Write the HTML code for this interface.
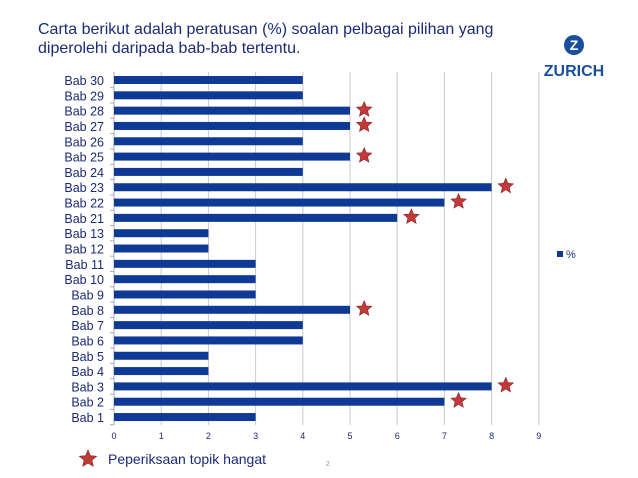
<!DOCTYPE html>
<html><head><meta charset="utf-8"><style>
body{margin:0;width:638px;height:478px;background:#fff;overflow:hidden;font-family:"Liberation Sans",sans-serif;position:relative}
.t{position:absolute;left:38px;top:20px;color:#1c2a78;font-size:16px;line-height:19px}
</style></head><body>
<div class="t">Carta berikut adalah peratusan (%) soalan pelbagai pilihan yang<br>diperolehi daripada bab-bab tertentu.</div>
<svg id="c" width="638" height="478" style="position:absolute;left:0;top:0">
<g>
<circle cx="574" cy="45" r="10" fill="#1a4fa0"/>
<text x="574" y="50" text-anchor="middle" font-size="14" font-weight="bold" fill="#fff" font-family="Liberation Sans">Z</text>
<text x="574" y="76" text-anchor="middle" font-size="16" font-weight="bold" fill="#1a4fa0" font-family="Liberation Sans">ZURICH</text>
</g>
</svg>
<script>
const cats=["Bab 30","Bab 29","Bab 28","Bab 27","Bab 26","Bab 25","Bab 24","Bab 23","Bab 22","Bab 21","Bab 13","Bab 12","Bab 11","Bab 10","Bab 9","Bab 8","Bab 7","Bab 6","Bab 5","Bab 4","Bab 3","Bab 2","Bab 1"];
const vals=[4,4,5,5,4,5,4,8,7,6,2,2,3,3,3,5,4,4,2,2,8,7,3];
const hot=[0,0,1,1,0,1,0,1,1,1,0,0,0,0,0,1,0,0,0,0,1,1,0];
const ticks=[0,1,2,3,4,5,6,7,8,9];
const svg=document.getElementById('c');const NS='http://www.w3.org/2000/svg';
const x=v=>114+v*47.2;const y=i=>80+i*15.32;
function mk(t,a,p){const e=document.createElementNS(NS,t);for(const k in a)e.setAttribute(k,a[k]);(p||svg).appendChild(e);return e;}
ticks.forEach(t=>{
 const l=mk('line',{x1:x(t),x2:x(t),y1:72,y2:425,stroke:t==0?'#aab':'#c8c8d0','stroke-width':1});
 
 
 const tx=mk('text',{x:x(t),y:439,'text-anchor':'middle','font-size':9,fill:'#1c2a78','font-family':'Liberation Sans'});tx.textContent=t;
 
 
});
function star(cx,cy,r){let p=[];for(let k=0;k<10;k++){const a=-Math.PI/2+k*Math.PI/5;const rr=k%2?r*0.45:r;p.push((cx+rr*Math.cos(a)).toFixed(1)+','+(cy+rr*Math.sin(a)).toFixed(1));}return mk('polygon',{points:p.join(' '),fill:'#c0393b',stroke:'#8a2020','stroke-width':0.6});}
cats.forEach((c,i)=>{
 const b=mk('rect',{x:x(0),y:y(i)-4,width:x(vals[i])-x(0),height:8,fill:'#0e3a96'});
 
 
 const t=mk('text',{x:104,y:y(i)+5,'text-anchor':'end','font-size':12.5,fill:'#1c2a78','font-family':'Liberation Sans'});t.textContent=c;
 
 
 mk('line',{x1:110,x2:114,y1:y(i)+7.66,y2:y(i)+7.66,stroke:'#aab'});
 if(hot[i]){const s=star(x(vals[i]+0.3),y(i)-1,8);
 
 }
});
const ls=star(88,459,9);


const lt=mk('text',{x:108,y:464,'font-size':14,fill:'#1c2a78','font-family':'Liberation Sans'});lt.textContent='Peperiksaan topik hangat';


const pn=mk('text',{x:328,y:466,'font-size':7,fill:'#8890b0','text-anchor':'middle','font-family':'Liberation Sans'});pn.textContent='2';


const lr=mk('rect',{x:557,y:251,width:6,height:6,fill:'#0e3a96'});


const lp=mk('text',{x:566,y:258,'font-size':11,fill:'#1c2a78','font-family':'Liberation Sans'});lp.textContent='%';


</script>
</body></html>
